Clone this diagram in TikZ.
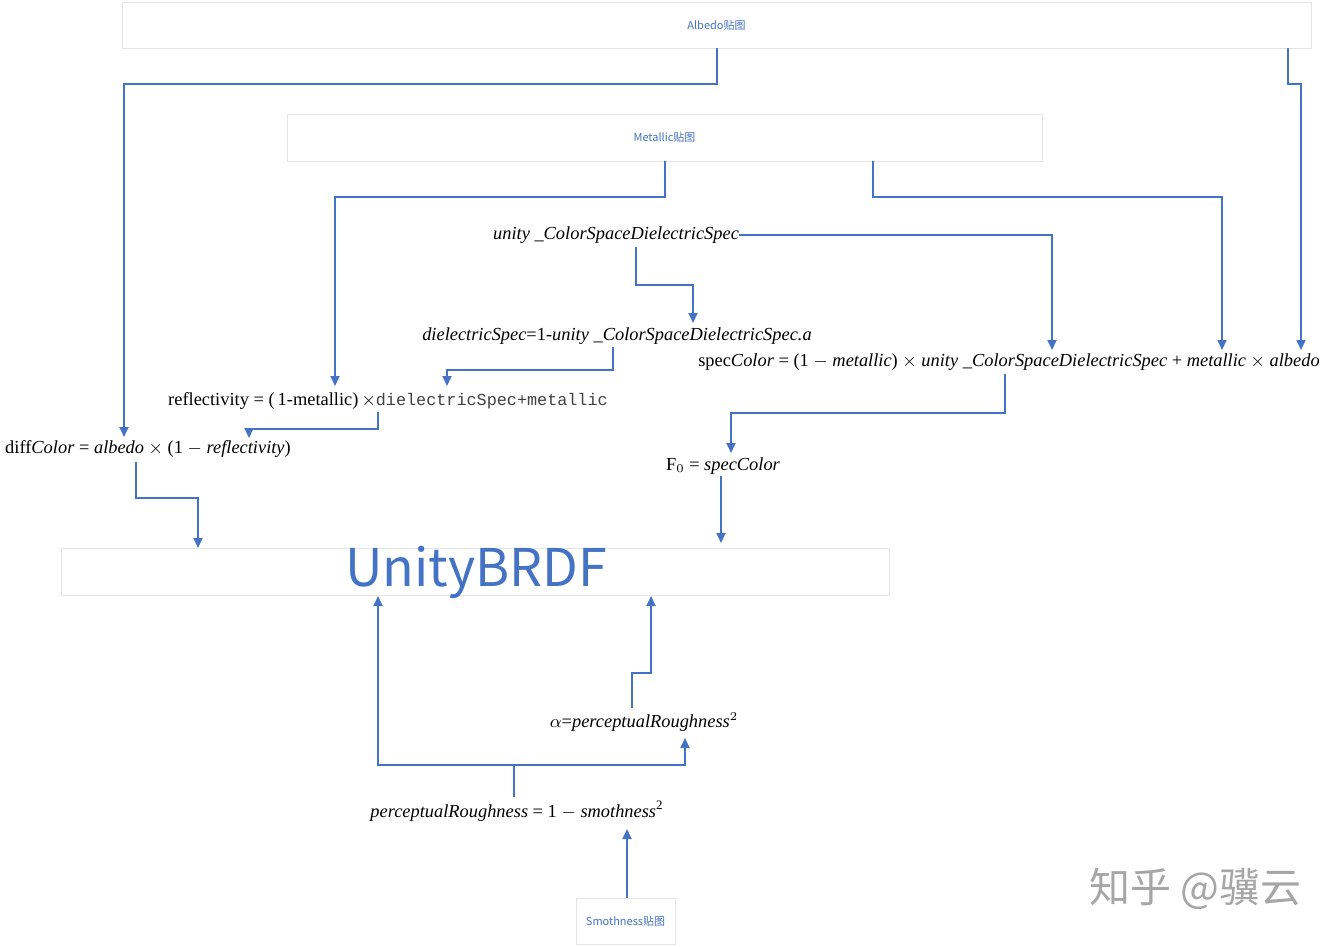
\documentclass[tikz,border=0pt]{standalone}
\usepackage{fontspec}
\setmainfont{Liberation Serif}
\setmonofont{Liberation Mono}
\newfontfamily\cjk{Noto Sans CJK SC}
\usepackage{xcolor}
\usetikzlibrary{arrows.meta, positioning}
\definecolor{linkblue}{HTML}{4472C4}
\definecolor{boxline}{HTML}{E4E4E4}

\begin{document}
\begin{tikzpicture}[x=0.5pt, y=-0.5pt,
    texbox/.style={rectangle, draw=boxline, fill=white, inner sep=0pt, text=linkblue, font=\cjk\fontsize{5.5}{6}\selectfont},
    formula/.style={inner sep=0pt, font=\fontsize{9.2}{10}\selectfont, anchor=center},
    arrow/.style={-{Triangle[length=5pt, width=4.5pt]}, linkblue, line width=0.9pt}
]
\useasboundingbox (0,0) rectangle (1336,946);

% Texture boxes
\node[texbox, minimum width=594.5pt, minimum height=23pt] (albedo) at (716.5,25) {Albedo贴图};
\node[texbox, minimum width=377.5pt, minimum height=23.5pt] (metallic) at (664.5,137.5) {Metallic贴图};
\node[texbox, minimum width=49.5pt, minimum height=23pt] (smooth) at (625.5,921) {Smothness贴图};
\node[rectangle, draw=boxline, inner sep=0pt, minimum width=414pt, minimum height=23.5pt] (brdf) at (475,571.5) {};
\node[text=linkblue, font=\cjk\fontsize{26}{27}\selectfont, inner sep=0pt] (brdftext) at (476,572) {UnityBRDF};

% Formulas
\node[formula] (unity) at (616,235) {\textit{unity \_ColorSpaceDielectricSpec}};
\node[formula] (dielec) at (617,336) {\textit{dielectricSpec}=1-\textit{unity \_ColorSpaceDielectricSpec.a}};
\node[formula] (spec) at (1009,362) {spec\textit{Color} = (1 $-$ \textit{metallic}) $\times$ \textit{unity \_ColorSpaceDielectricSpec} + \textit{metallic} $\times$ \textit{albedo}};
\node[formula] (refl) at (388,401) {reflectivity = (\,1-metallic)\,$\times${\ttfamily\fontsize{8.4}{10}\selectfont\color{black!75}dielectricSpec+metallic}};
\node[formula] (diff) at (148,449) {diff\textit{Color} = \textit{albedo} $\times$ (1 $-$ \textit{reflectivity})};
\node[formula] (fzero) at (723,466) {F$_0$ = \textit{specColor}};
\node[formula] (alpha) at (644,722) {$\alpha$=\textit{perceptualRoughness}$^2$};
\node[formula] (rough) at (517,811) {\textit{perceptualRoughness} = 1 $-$ \textit{smothness}\textsuperscript{2}};

% Watermark
\node[text=black!35, font=\cjk\fontsize{20.5}{21}\selectfont, inner sep=0pt] (mark) at (1195,889) {知乎 @骥云};

% Connections
\draw[arrow] (717,48) |- (124,84) -- (124,437);
\draw[arrow] (1288,48) |- (1301,84) -- (1301,350);
\draw[arrow] (665,161) |- (335,197) -- (335,386);
\draw[arrow] (873,161) |- (1222,197) -- (1222,350);
\draw[arrow] (unity.east) -| (1052,350);
\draw[arrow] (636,247) |- (693,285) -- (693,323);
\draw[arrow] (613,347) |- (447,370) -- (447,386);
\draw[arrow] (378,412) |- (249,429) -- (249,438);
\draw[arrow] (136,462) |- (198,498) -- (198,548);
\draw[arrow] (1005,374) |- (731,413) -- (731,453);
\draw[arrow] (721,476) -- (721,543);
\draw[arrow] (632,708) |- (651,673) -- (651,596);
\draw[arrow] (514,797) |- (378,765) -- (378,596);
\draw[arrow] (514,765) -| (685,738);
\draw[arrow] (smooth.north -| 627,0) -- (627,829);

\end{tikzpicture}
\end{document}
